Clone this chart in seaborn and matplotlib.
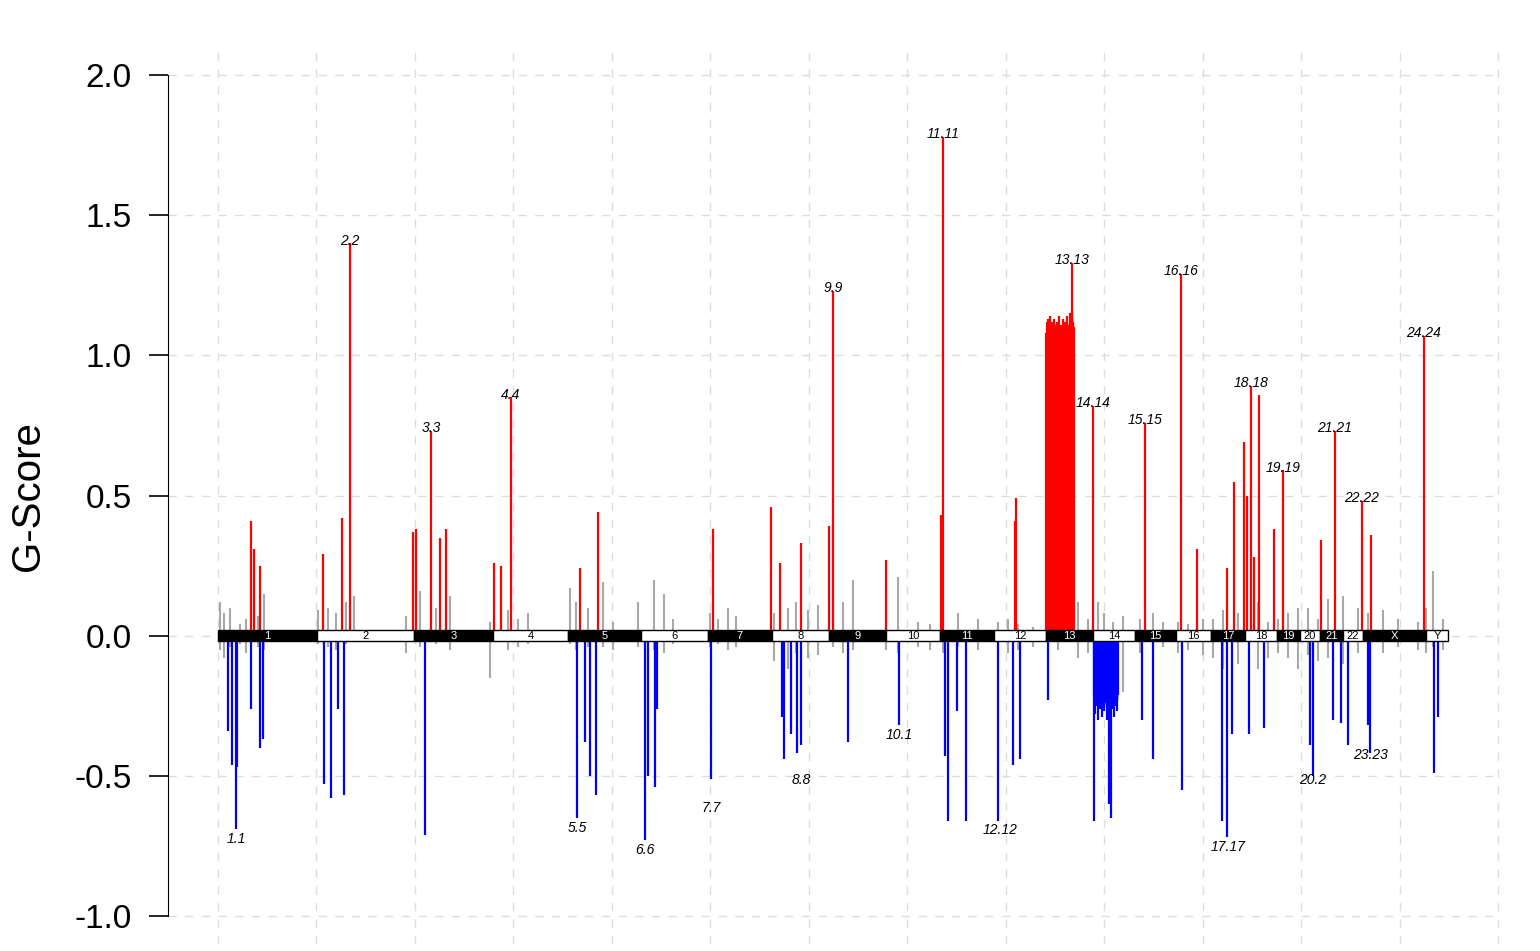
import matplotlib
matplotlib.use("Agg")
import matplotlib.pyplot as plt
import seaborn as sns
import numpy as np
from matplotlib.patches import Rectangle

sns.set_style("white")
plt.rcParams['font.family'] = ['Liberation Sans', 'DejaVu Sans']
plt.rcParams['text.color'] = 'black'
plt.rcParams['axes.labelcolor'] = 'black'
plt.rcParams['ytick.color'] = 'black'

chrom_names = ["1","2","3","4","5","6","7","8","9","10","11","12","13","14","15","16","17","18","19","20","21","22","X","Y"]
chrom_sizes = [99,97,79,75,73,67,64,57,57,54,54,52,47,42,41,35,34,32,23,20,23,20,63,22]

amp_pos = [33,36,42, 105,124,132, 195,198,213,222,228, 276,283,293, 362,380, 495, 553,562,583,
           611,615, 668, 725,723, 797,798, 854, 875, 927, 963,979, 1009,1016,1026,1029,
           1033,1036,1041,1056, 1065, 1103,1117, 1144,1153, 1206]
amp_val = [0.41,0.31,0.25, 0.29,0.42,1.40, 0.37,0.38,0.73,0.35,0.38, 0.26,0.25,0.85, 0.24,0.44, 0.38,
           0.46,0.26,0.33, 0.39,1.23, 0.27, 1.78,0.43, 0.41,0.49, 1.33, 0.82, 0.76, 1.29,0.31,
           0.24,0.55,0.69,0.50, 0.89,0.28,0.86,0.38, 0.59, 0.34,0.73, 0.48,0.36, 1.07]
del_pos = [10,14,18,19,33,42,45, 106,113,120,126, 207, 359,367,372,378, 427,430,437,439, 493,
           564,566,573,579,583, 630, 681, 727,730,739,748, 780,795,802, 830, 876,891,893,
           924,935, 964, 1004,1009,1014, 1031,1046, 1092,1095, 1115,1123, 1130,1150,1152, 1216,1220]
del_val = [-0.34,-0.46,-0.69,-0.47,-0.26,-0.40,-0.37, -0.53,-0.58,-0.26,-0.57, -0.71,
           -0.65,-0.38,-0.50,-0.57, -0.73,-0.50,-0.54,-0.26, -0.51,
           -0.29,-0.44,-0.35,-0.42,-0.39, -0.38, -0.32, -0.43,-0.66,-0.27,-0.66,
           -0.66,-0.46,-0.44, -0.23, -0.66,-0.60,-0.65, -0.30,-0.44, -0.55,
           -0.66,-0.72,-0.35, -0.35,-0.33, -0.39,-0.50, -0.30,-0.31, -0.39,-0.32,-0.42, -0.49,-0.29]

# dense blocks
dense_amp_pos = list(range(828, 857))
dense_amp_val = [1.08,1.12,1.13,1.10,1.14,1.05,1.12,1.09,1.13,1.11,1.07,1.12,1.10,1.14,1.09,
                 1.11,1.06,1.13,1.10,1.12,1.08,1.14,1.11,1.09,1.15,1.10,1.16,1.12,1.10]
dense_del_pos = list(range(876, 901))
dense_del_val = [-0.22,-0.28,-0.20,-0.25,-0.30,-0.21,-0.26,-0.23,-0.29,-0.20,-0.27,-0.24,-0.22,
                 -0.30,-0.25,-0.21,-0.28,-0.23,-0.26,-0.20,-0.29,-0.22,-0.25,-0.27,-0.21]

# gray background (positions, positive, negative)
gray_pos = [2,6,12,22,28,40,46, 100,110,118,128,136, 188,202,218,232, 272,290,300,310, 352,358,370,
            385,395, 420,436,446,455, 492,500,510,518, 556,570,578,590,600, 615,625,635, 668,680,
            700,712, 725,740,760, 780,790,800,815, 840,860,870, 880,886,895,905, 922,935,945,
            960,970,985, 995,1005, 1020,1040,1050, 1060,1070,1080, 1090,1100,1110, 1125,1140,
            1150,1165,1180,1200,1208,1215,1225]
gray_up = [0.12,0.08,0.10,0.04,0.06,0.07,0.15, 0.09,0.10,0.08,0.12,0.14, 0.07,0.16,0.10,0.14,
           0.05,0.09,0.06,0.08, 0.17,0.12,0.10, 0.19,0.05, 0.12,0.20,0.15,0.06, 0.08,0.06,0.10,0.07,
           0.08,0.10,0.12,0.09,0.11, 0.14,0.12,0.20, 0.17,0.21, 0.05,0.04, 0.05,0.08,0.06,
           0.05,0.06,0.04,0.03, 0.05,0.12,0.06, 0.12,0.08,0.05,0.07, 0.06,0.08,0.05,
           0.05,0.04,0.06, 0.06,0.09, 0.08,0.12,0.05, 0.06,0.08,0.10, 0.10,0.06,0.13,
           0.14,0.10, 0.08,0.09,0.06,0.05,0.10,0.23,0.06]
gray_dn = [-0.05,-0.08,-0.04,-0.03,-0.06,-0.04,-0.05, -0.03,-0.04,-0.05,-0.03,-0.02, -0.06,-0.04,
           -0.03,-0.05, -0.15,-0.05,-0.04,-0.03, -0.03,-0.05,-0.04, -0.04,-0.05, -0.04,-0.05,-0.06,
           -0.03, -0.04,-0.03,-0.05,-0.04, -0.09,-0.12,-0.06,-0.08,-0.07, -0.04,-0.06,-0.05,
           -0.05,-0.06, -0.04,-0.05, -0.06,-0.04,-0.05, -0.07,-0.06,-0.05,-0.04, -0.05,-0.08,-0.06,
           -0.12,-0.15,-0.10,-0.20, -0.06,-0.05,-0.04, -0.06,-0.05,-0.07, -0.08,-0.12,
           -0.10,-0.12,-0.08, -0.06,-0.08,-0.12, -0.07,-0.09,-0.08, -0.10,-0.06,
           -0.05,-0.06,-0.04,-0.05,-0.06,-0.04,-0.05]

amp_labels = ["2.2","3.3","4.4","9.9","11.11","13.13","14.14","15.15","16.16","18.18","19.19","21.21","22.22","24.24"]
amp_label_pos = [132,213,293,615,725,854,875,927,963,1033,1065,1117,1144,1206]
amp_label_val = [1.40,0.73,0.85,1.23,1.78,1.33,0.82,0.76,1.29,0.89,0.59,0.73,0.48,1.07]
del_labels = ["1.1","5.5","6.6","7.7","8.8","10.1","12.12","17.17","20.2","23.23"]
del_label_pos = [18,359,427,493,583,681,782,1010,1095,1153]
del_label_val = [-0.69,-0.65,-0.73,-0.58,-0.48,-0.32,-0.66,-0.72,-0.48,-0.39]

fig = plt.figure(figsize=(15.4, 9.51), dpi=100)
ax = fig.add_axes([0.109, 0.0074, 0.865, 0.943])

ax.vlines(gray_pos, 0, gray_up, color="#a8a8a8", lw=1.5, zorder=1)
ax.vlines(gray_pos, gray_dn, 0, color="#a8a8a8", lw=1.5, zorder=1)
ax.vlines(amp_pos, 0, amp_val, color="red", lw=1.6, zorder=2)
ax.vlines(del_pos, del_val, 0, color="blue", lw=1.6, zorder=2)
ax.vlines(dense_amp_pos, 0, dense_amp_val, color="red", lw=1.6, zorder=2)
ax.fill_between(dense_amp_pos, 0, dense_amp_val, color="red", lw=0, zorder=2)
ax.vlines(dense_del_pos, dense_del_val, 0, color="blue", lw=1.6, zorder=2)
ax.fill_between(dense_del_pos, dense_del_val, 0, color="blue", lw=0, zorder=2)

start = 0
for i, (n, s) in enumerate(zip(chrom_names, chrom_sizes)):
    fc = "black" if i % 2 == 0 else "white"
    tc = "white" if i % 2 == 0 else "black"
    ax.add_patch(Rectangle((start, -0.02), s, 0.04, facecolor=fc, edgecolor="black", lw=1, zorder=4))
    ax.text(start + s / 2, 0, n, ha="center", va="center", fontsize=8, color=tc, zorder=5)
    start += s

for t, x, y in zip(amp_labels, amp_label_pos, amp_label_val):
    ax.text(x, y - 0.015, t, ha="center", va="bottom", fontsize=10, style="italic", color="black", zorder=6)
for t, x, y in zip(del_labels, del_label_pos, del_label_val):
    ax.text(x, y - 0.01, t, ha="center", va="top", fontsize=10, style="italic", color="black", zorder=6)

ax.set_xlim(-50, 1282)
ax.set_ylim(-1.1, 2.1)
ax.set_yticks([-1.0, -0.5, 0.0, 0.5, 1.0, 1.5, 2.0])
ax.set_yticklabels(["-1.0", "-0.5", "0.0", "0.5", "1.0", "1.5", "2.0"], fontsize=24)
ax.set_xticks(np.arange(0, 1300, 98.5))
ax.tick_params(axis="x", length=0, labelbottom=False)
ax.tick_params(axis="y", length=14, width=1.2, pad=12, left=True, colors="black")
ax.grid(True, color="#dddddd", ls=(0, (6, 6)), lw=1)
ax.set_ylabel("G-Score", fontsize=29, color="black")
ax.yaxis.set_label_coords(-0.091, 0.5)
for sp in ["top", "right", "bottom"]:
    ax.spines[sp].set_visible(False)
ax.spines["left"].set_bounds(-1, 2)
ax.spines["left"].set_color("black")
fig.savefig("out.png", dpi=100)
